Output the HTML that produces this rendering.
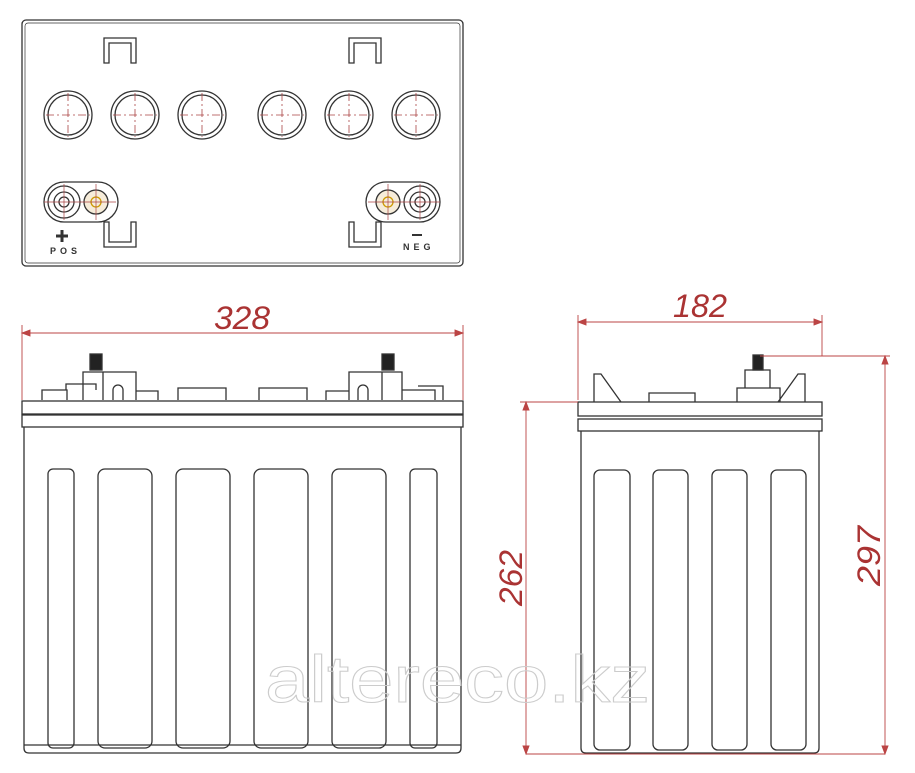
<!DOCTYPE html>
<html><head><meta charset="utf-8"><style>body{margin:0;background:#fff}svg{display:block}</style></head><body>
<svg width="915" height="773" viewBox="0 0 915 773" xmlns="http://www.w3.org/2000/svg" font-family="Liberation Sans, sans-serif">
<defs>
<g id="x"><path d="M-22 0H22M0 -22V22" stroke="#a44" stroke-width="0.8" stroke-dasharray="8 3 2 3" fill="none"/></g>
</defs>
<g fill="none" stroke="#333" stroke-width="1.3">
<!-- top view -->
<rect x="22" y="20" width="441" height="246" rx="4"/>
<rect x="25" y="23" width="435" height="240" rx="3" stroke-width="0.7"/>
<path d="M104 63V38h32v25h-5V43h-22v20z"/>
<path d="M349 63V38h32v25h-5V43h-22v20z"/>
<path d="M104 222v25h32v-25h-5v20h-22v-20z"/>
<path d="M349 222v25h32v-25h-5v20h-22v-20z"/>
<g id="c"><circle cx="68" cy="115" r="24"/><circle cx="68" cy="115" r="20"/><use href="#x" x="68" y="115"/></g>
<use href="#c" x="67"/><use href="#c" x="134"/><use href="#c" x="214"/><use href="#c" x="281"/><use href="#c" x="348"/>
<path d="M64 182 h34 a20 20 0 0 1 0 40 h-34 a20 20 0 0 1 0 -40z"/>
<circle cx="64" cy="202" r="16"/><circle cx="64" cy="202" r="10"/><circle cx="64" cy="202" r="5"/>
<circle cx="96" cy="202" r="12" fill="#f6ecd9"/><circle cx="96" cy="202" r="5" stroke="#c90"/>
<path d="M386 182 h34 a20 20 0 0 1 0 40 h-34 a20 20 0 0 1 0 -40z"/>
<circle cx="420" cy="202" r="16"/><circle cx="420" cy="202" r="10"/><circle cx="420" cy="202" r="5"/>
<circle cx="388" cy="202" r="12" fill="#f6ecd9"/><circle cx="388" cy="202" r="5" stroke="#c90"/>
<path d="M44 202H116M64 184V220M96 184V220M368 202H440M388 184V220M420 184V220" stroke="#a44" stroke-width="0.7"/>
<path d="M62 230v12M56 236h12" stroke-width="3"/><path d="M412 235h10" stroke-width="2"/>
<!-- front view -->
<rect x="22" y="401" width="441" height="13"/>
<rect x="22" y="415" width="441" height="12"/>
<path d="M24 427V748q0 5 5 5H456q5 0 5-5V427"/>
<path d="M24 745H461"/>
<rect x="48" y="469" width="26" height="279" rx="5"/>
<rect x="98" y="469" width="54" height="279" rx="7"/>
<rect x="176" y="469" width="54" height="279" rx="7"/>
<rect x="254" y="469" width="54" height="279" rx="7"/>
<rect x="332" y="469" width="54" height="279" rx="7"/>
<rect x="410" y="469" width="27" height="279" rx="5"/>
<path d="M42 400v-10h25v10M66 390v-6h30v6M83 400v-28h20v28M103 372h33v28M136 391h22v9M178 400v-12h48v12M259 400v-12h48v12M326 400v-9h23v9M349 400v-28h33v28M382 372h20v28M402 390h33v10M418 386h25v14"/>
<path d="M113 400v-10a5 5 0 0 1 10 0v10M358 400v-10a5 5 0 0 1 10 0v10"/>
<rect x="90" y="354" width="12" height="16" fill="#222"/><rect x="382" y="354" width="12" height="16" fill="#222"/>
<!-- side view -->
<rect x="578" y="402" width="244" height="14"/>
<rect x="578" y="419" width="244" height="12"/>
<path d="M581 431V748q0 5 5 5H814q5 0 5-5V431"/>
<rect x="594" y="470" width="36" height="280" rx="6"/>
<rect x="653" y="470" width="35" height="280" rx="6"/>
<rect x="712" y="470" width="35" height="280" rx="6"/>
<rect x="771" y="470" width="35" height="280" rx="6"/>
<path d="M594 402v-28h7l20 28M805 402v-28h-7l-20 28M649 402v-9h46v9M737 402v-14h43v14M745 388v-18h25v18"/>
<rect x="753" y="355" width="10" height="15" fill="#222"/>
</g>
<g stroke="#b44" stroke-width="0.9" fill="none">
<path d="M22 333H463M22 325V400M463 325V400"/>
<path d="M578 322H822M578 315V400M822 315V356"/>
<path d="M526 402V754M520 402H578M526 754H885M885 356V754M760 356H890"/>
<path d="M22 333l8-3v6zM463 333l-8-3v6zM578 322l8-3v6zM822 322l-8-3v6zM526 402l-3 8h6zM526 754l-3-8h6zM885 356l-3 8h6zM885 754l-3-8h6z" fill="#b44"/>
</g>
<g fill="#a33" font-size="32" font-style="italic">
<text x="214" y="329" textLength="56" lengthAdjust="spacingAndGlyphs">328</text>
<text x="673" y="317" textLength="54" lengthAdjust="spacingAndGlyphs">182</text>
<text transform="translate(522 606) rotate(-90)" textLength="56" lengthAdjust="spacingAndGlyphs">262</text>
<text transform="translate(880 586) rotate(-90)" textLength="60" lengthAdjust="spacingAndGlyphs">297</text>
</g>
<g font-size="9" font-weight="bold" fill="#333" letter-spacing="4"><text x="50" y="254">POS</text><text x="403" y="250">NEG</text></g>
<text x="265" y="702" font-size="66" textLength="385" lengthAdjust="spacingAndGlyphs" fill="none" stroke="#ccc" stroke-width="1">altereco.kz</text>
</svg>
</body></html>
